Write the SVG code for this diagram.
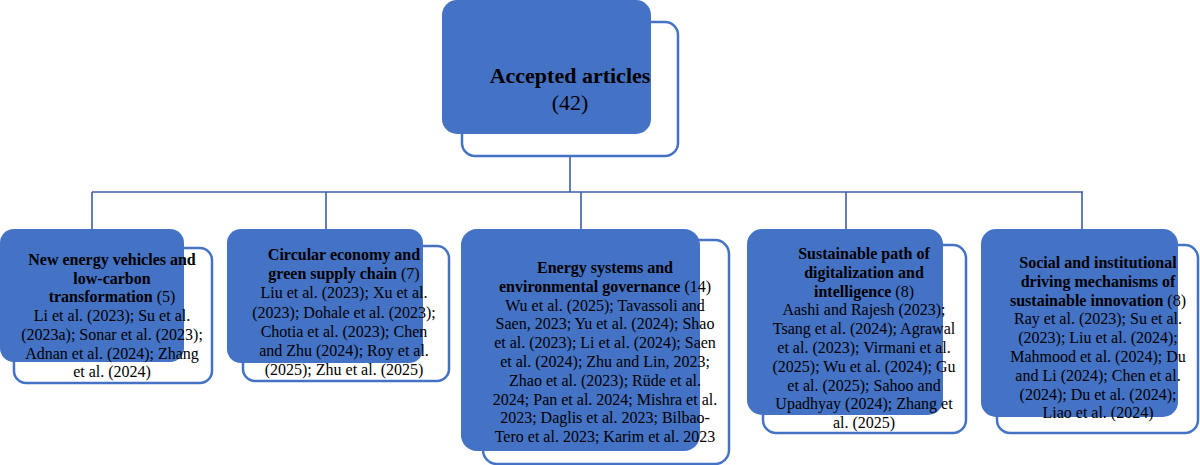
<svg xmlns="http://www.w3.org/2000/svg" width="1200" height="465" viewBox="0 0 1200 465">
<style>
.bg{fill:#ffffff}
.back{fill:#ffffff;stroke:#4472C4;stroke-width:2.5}
.front{fill:#4472C4;stroke:none}
.conn{fill:none;stroke:#3C5DA8;stroke-width:1.6}
text{font-family:"Liberation Serif","Times New Roman",serif;fill:#000;text-anchor:middle;font-size:16px}
.b{font-weight:bold}
.top{font-size:22px}
</style>
<rect class="bg" x="0" y="0" width="1200" height="465"/>
<g id="connectors">
<path class="conn" d="M570 156 V192 M92 192 H1083 M92 192 V229 M326 192 V229 M581 192 V229 M846 192 V229 M1082 192 V229"/>
</g>
<g id="root">
<rect class="back" x="462" y="22" width="216" height="134" rx="13"/>
<rect class="front" x="442" y="0" width="209" height="134" rx="15"/>
<text class="top" x="570" y="83"><tspan class="b">Accepted articles</tspan></text>
<text class="top" x="570" y="110">(42)</text>
</g>
<g id="node1">
<rect class="back" x="14" y="248" width="198" height="135" rx="12"/>
<rect class="front" x="0" y="229" width="184" height="133" rx="14"/>
<text x="112" y="265" class="b">New energy vehicles and</text>
<text x="112" y="283.7" class="b">low-carbon</text>
<text x="112" y="302.4"><tspan class="b">transformation</tspan> (5)</text>
<text x="112" y="321.1">Li et al. (2023); Su et al.</text>
<text x="112" y="339.8">(2023a); Sonar et al. (2023);</text>
<text x="112" y="358.5">Adnan et al. (2024); Zhang</text>
<text x="112" y="377.2">et al. (2024)</text>
</g>
<g id="node2">
<rect class="back" x="243" y="246" width="206" height="135" rx="12"/>
<rect class="front" x="227" y="229" width="196" height="134" rx="14"/>
<text x="344" y="260" class="b">Circular economy and</text>
<text x="344" y="279.2"><tspan class="b">green supply chain</tspan> (7)</text>
<text x="344" y="298.4">Liu et al. (2023); Xu et al.</text>
<text x="344" y="317.6">(2023); Dohale et al. (2023);</text>
<text x="344" y="336.8">Chotia et al. (2023); Chen</text>
<text x="344" y="356">and Zhu (2024); Roy et al.</text>
<text x="344" y="375.2">(2025); Zhu et al. (2025)</text>
</g>
<g id="node3">
<rect class="back" x="483" y="240" width="246" height="224" rx="14"/>
<rect class="front" x="461" y="229" width="239" height="222" rx="16"/>
<text x="605" y="273" class="b">Energy systems and</text>
<text x="605" y="291.8"><tspan class="b">environmental governance</tspan> (14)</text>
<text x="605" y="310.6">Wu et al. (2025); Tavassoli and</text>
<text x="605" y="329.4">Saen, 2023; Yu et al. (2024); Shao</text>
<text x="605" y="348.2">et al. (2023); Li et al. (2024); Saen</text>
<text x="605" y="367">et al. (2024); Zhu and Lin, 2023;</text>
<text x="605" y="385.8">Zhao et al. (2023); Rüde et al.</text>
<text x="605" y="404.6">2024; Pan et al. 2024; Mishra et al.</text>
<text x="605" y="423.4">2023; Daglis et al. 2023; Bilbao-</text>
<text x="605" y="442.2">Tero et al. 2023; Karim et al. 2023</text>
</g>
<g id="node4">
<rect class="back" x="763" y="245" width="203" height="188" rx="13"/>
<rect class="front" x="747" y="229" width="196" height="186" rx="15"/>
<text x="864" y="259" class="b">Sustainable path of</text>
<text x="864" y="277.8" class="b">digitalization and</text>
<text x="864" y="296.6"><tspan class="b">intelligence</tspan> (8)</text>
<text x="864" y="315.4">Aashi and Rajesh (2023);</text>
<text x="864" y="334.2">Tsang et al. (2024); Agrawal</text>
<text x="864" y="353">et al. (2023); Virmani et al.</text>
<text x="864" y="371.8">(2025); Wu et al. (2024); Gu</text>
<text x="864" y="390.6">et al. (2025); Sahoo and</text>
<text x="864" y="409.4">Upadhyay (2024); Zhang et</text>
<text x="864" y="428.2">al. (2025)</text>
</g>
<g id="node5">
<rect class="back" x="997" y="245" width="201" height="188" rx="13"/>
<rect class="front" x="981" y="229" width="197" height="188" rx="15"/>
<text x="1098" y="268" class="b">Social and institutional</text>
<text x="1098" y="286.8" class="b">driving mechanisms of</text>
<text x="1098" y="305.6"><tspan class="b">sustainable innovation</tspan> (8)</text>
<text x="1098" y="324.4">Ray et al. (2023); Su et al.</text>
<text x="1098" y="343.2">(2023); Liu et al. (2024);</text>
<text x="1098" y="362">Mahmood et al. (2024); Du</text>
<text x="1098" y="380.8">and Li (2024); Chen et al.</text>
<text x="1098" y="399.6">(2024); Du et al. (2024);</text>
<text x="1098" y="418.4">Liao et al. (2024)</text>
</g>
</svg>
